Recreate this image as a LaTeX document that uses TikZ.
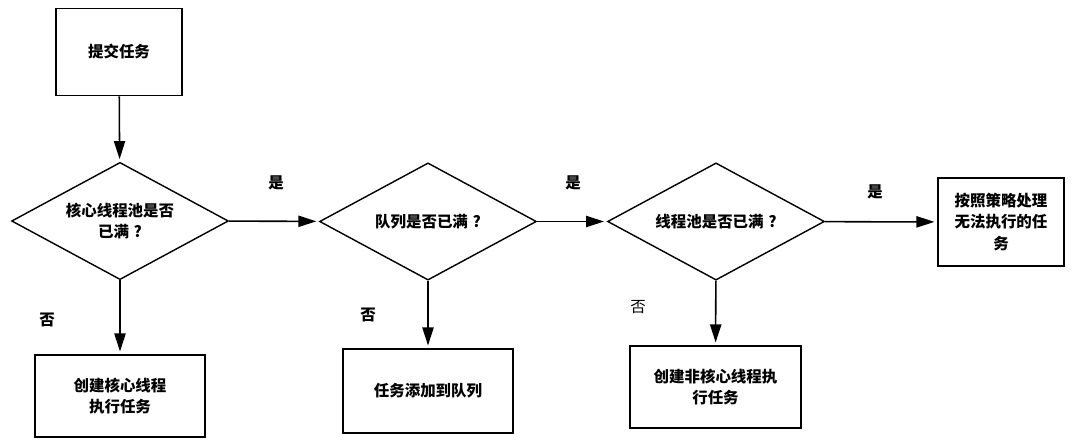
\documentclass[tikz,border=0pt]{standalone}
\usepackage{fontspec}
\setmainfont{Noto Sans CJK SC}
\usetikzlibrary{shapes.geometric,arrows.meta}

\begin{document}
\begin{tikzpicture}[x=0.025cm,y=-0.025cm,
    box/.style={draw,line width=1pt,align=center,font=\bfseries\fontsize{11}{15}\selectfont},
    decide/.style={draw,diamond,aspect=1.85,inner sep=0pt,line width=1pt,align=center,
        minimum width=5.42cm,minimum height=2.93cm,font=\bfseries\fontsize{11}{15}\selectfont},
    flow/.style={line width=1.1pt,-{Triangle[length=4.5mm,width=2.8mm]},shorten >=2pt},
    answer/.style={font=\bfseries\fontsize{11}{13}\selectfont}]
    \useasboundingbox (0,0) rectangle (1072,440);

    \node[box,minimum width=3.15cm,minimum height=2.18cm] (task) at (119,52) {提交任务};
    \node[decide] (core) at (120,221) {核心线程池是否\\已满\hspace{0.3em}?};
    \node[box,minimum width=4.25cm,minimum height=2.05cm] (corerun) at (120,396) {创建核心线程\\执行任务};

    \node[decide] (queue) at (428,221.5) {队列是否已满\hspace{0.3em}?};
    \node[box,minimum width=4.25cm,minimum height=2.1cm] (queueadd) at (428,391) {任务添加到队列};

    \node[decide] (pool) at (716,221.5) {线程池是否已满\hspace{0.3em}?};
    \node[box,minimum width=4.27cm,minimum height=2.05cm] (poolrun) at (715.5,387) {创建非核心线程执\\行任务};

    \node[box,minimum width=3.15cm,minimum height=2.2cm] (reject) at (1001,222) {按照策略处理\\无法执行的任\\务};

    \draw[flow] (task) -- (core);
    \draw[flow] (core) -- (corerun);
    \draw[flow] (core) -- (queue);
    \draw[flow] (queue) -- (queueadd);
    \draw[flow] (queue) -- (pool);
    \draw[flow] (pool) -- (poolrun);
    \draw[flow] (pool) -- (reject);

    \node[answer] (yes1) at (276,183) {是};
    \node[answer] (yes2) at (573,183) {是};
    \node[answer] (yes3) at (875,192) {是};
    \node[answer] (no1) at (47,320) {否};
    \node[answer] (no2) at (368,315) {否};
    \node[font=\fontsize{11}{13}\selectfont] (no3) at (638,307) {否};
\end{tikzpicture}
\end{document}
